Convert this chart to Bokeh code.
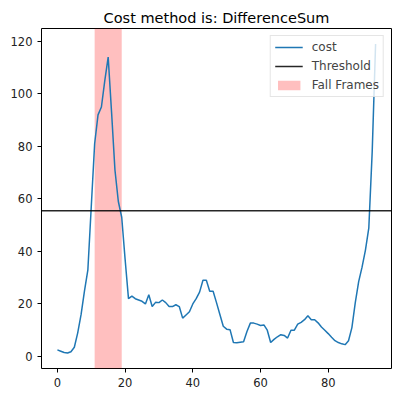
from bokeh.plotting import figure
from bokeh.models import Range1d, Legend, LegendItem
from bokeh.embed import file_html
from bokeh.resources import INLINE

# cost per frame
cost = [2.5, 2.0, 1.5, 1.3, 1.8, 3.5, 9, 16, 25, 33,
        57, 81, 92, 95, 105, 114, 93, 71, 59, 53,
        37, 22, 23, 22, 21.5, 21, 20, 23.5, 19, 20.6,
        20.5, 21.5, 20.5, 19, 19, 19.7, 19, 14.6, 15.8, 17,
        20, 22, 24.5, 29, 29, 24.8, 24.8, 20.5, 16, 11.5,
        10.4, 10.2, 5.3, 5.2, 5.4, 5.6, 9.5, 12.7, 12.7, 12.3,
        11.8, 12, 10, 5.3, 6.5, 7.5, 8.3, 8, 7, 10,
        10, 12.3, 13, 14, 15.5, 14, 14, 12.8, 11.2, 10,
        8.7, 7.3, 6, 5.3, 4.8, 4.5, 6, 11, 20.5, 28.5,
        34, 40.5, 49, 78, 119]
frames = list(range(len(cost)))
threshold = 55.5
fall_start = [11]
fall_end = [19]

font = "DejaVu Sans"

# matplotlib-like 5% margins
xpad = (max(frames) - min(frames)) * 0.05
ypad = (max(cost) - min(cost)) * 0.05
x0, x1 = min(frames) - xpad, max(frames) + xpad
y0, y1 = min(cost) - ypad, max(cost) + ypad

p = figure(frame_width=350, frame_height=340,
           x_range=Range1d(x0, x1), y_range=Range1d(y0, y1),
           output_backend="svg", toolbar_location=None,
           min_border_left=41, min_border_right=18,
           min_border_top=28, min_border_bottom=33,
           title="Cost method is: DifferenceSum")

p.title.align = "center"
p.title.text_font = font
p.title.text_font_size = "14.5px"
p.title.text_font_style = "normal"
p.title.text_color = "black"
p.title.standoff = 6

p.xgrid.visible = False
p.ygrid.visible = False
p.outline_line_color = "black"
p.outline_line_width = 1
p.outline_line_alpha = 1

for ax in (p.xaxis[0], p.yaxis[0]):
    ax.axis_line_color = None
    ax.major_tick_in = 0
    ax.major_tick_out = 4
    ax.major_tick_line_color = "black"
    ax.minor_tick_line_color = None
    ax.major_label_standoff = 5
    ax.major_label_text_font = font
    ax.major_label_text_font_size = "11.5px"
    ax.major_label_text_color = "#222222"

p.xaxis.ticker = [0, 20, 40, 60, 80]
p.yaxis.ticker = [0, 20, 40, 60, 80, 100, 120]

fall = p.quad(left=fall_start, right=fall_end, bottom=[y0], top=[y1],
              fill_color="red", fill_alpha=0.25, line_color=None)
cost_line = p.line(frames, cost, line_color="#1f77b4", line_width=1.5)
thr = p.line([x0, x1], [threshold, threshold], line_color="black",
             line_width=1.5, line_alpha=0.85)

legend = Legend(items=[LegendItem(label="cost", renderers=[cost_line]),
                       LegendItem(label="Threshold", renderers=[thr]),
                       LegendItem(label="Fall Frames", renderers=[fall])],
                location="top_right")
legend.margin = 7
legend.padding = 4
legend.spacing = 5
legend.glyph_width = 28
legend.glyph_height = 12
legend.label_height = 14
legend.label_standoff = 9
legend.label_text_font = font
legend.label_text_font_size = "12px"
legend.label_text_baseline = "middle"
legend.border_line_color = "#cccccc"
legend.border_line_width = 1
legend.background_fill_alpha = 0.8
p.add_layout(legend)

open("out.html", "w").write(file_html(p, INLINE))
